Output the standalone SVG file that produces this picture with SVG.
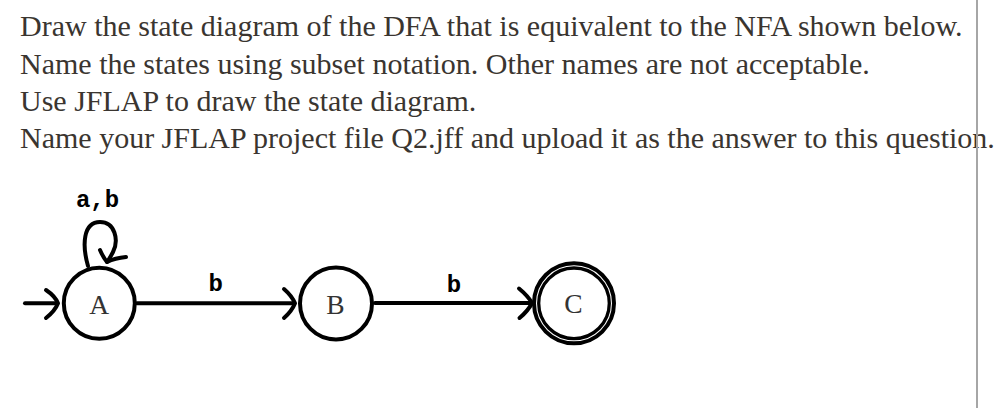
<svg xmlns="http://www.w3.org/2000/svg" width="1004" height="408" viewBox="0 0 1004 408">
  <style>
    .q { font-family: "Liberation Serif", "Times New Roman", serif; font-size: 30px; fill: #3a3530; }
    .st { fill: none; stroke: #000; stroke-width: 4; }
    .lbl { font-family: "Liberation Serif", "Times New Roman", serif; font-size: 27.5px; fill: #333; text-anchor: middle; }
    .sym { font-family: "Liberation Mono", "Courier New", monospace; font-weight: bold; font-size: 24px; fill: #000; text-anchor: middle; }
    .edge { fill: none; stroke: #000; stroke-width: 4; stroke-linecap: round; stroke-linejoin: round; }
  </style>
  <rect x="0" y="0" width="1004" height="408" fill="#fff"/>
  <g id="question">
    <text class="q" x="20" y="36">Draw the state diagram of the DFA that is equivalent to the NFA shown below.</text>
    <text class="q" x="20" y="73.5">Name the states using subset notation. Other names are not acceptable.</text>
    <text class="q" x="20" y="110.5">Use JFLAP to draw the state diagram.</text>
    <text class="q" x="20" y="148">Name your JFLAP project file Q2.jff and upload it as the answer to this question.</text>
  </g>
  <line x1="977" y1="0" x2="977" y2="408" stroke="#a6a6a6" stroke-width="2"/>
  <g id="connectors">
    <g id="start">
      <path class="edge" d="M 25 303.3 L 57 303.3"/>
      <path class="edge" d="M 46 290 Q 55 296 58 303.3 Q 55 311 46 318"/>
    </g>
    <g id="loopA">
      <path class="edge" d="M 88 266 C 82 245, 83 222, 100 222 C 115 222, 119 240, 113 252 Q 110 258, 107 262"/>
      <path class="edge" d="M 100 250 Q 103 257 107 262 Q 115 258 126 257"/>
      <text class="sym" x="97.5" y="206.5">a,b</text>
    </g>
    <g id="AtoB">
      <path class="edge" d="M 137 303.3 L 294 303.3"/>
      <path class="edge" d="M 284 289 Q 292 296 295 303.3 Q 292 311 284 318"/>
      <text class="sym" x="215.8" y="291">b</text>
    </g>
    <g id="BtoC">
      <path class="edge" d="M 375 303 L 531 303"/>
      <path class="edge" d="M 519 288.5 Q 528 296 532 303 Q 528 311 519.5 318"/>
      <text class="sym" x="454" y="291.5">b</text>
    </g>
  </g>
  <g id="A">
    <circle class="st" cx="99.3" cy="303.3" r="35.5"/>
    <text class="lbl" x="99.3" y="314">A</text>
  </g>
  <g id="B">
    <circle class="st" cx="336" cy="303.5" r="36"/>
    <text class="lbl" x="335.5" y="313.5">B</text>
  </g>
  <g id="C">
    <circle class="st" cx="574" cy="303.3" r="40"/>
    <circle fill="none" stroke="#000" stroke-width="3.3" cx="574" cy="303.3" r="35.3"/>
    <text class="lbl" x="573.3" y="313">C</text>
  </g>
</svg>
